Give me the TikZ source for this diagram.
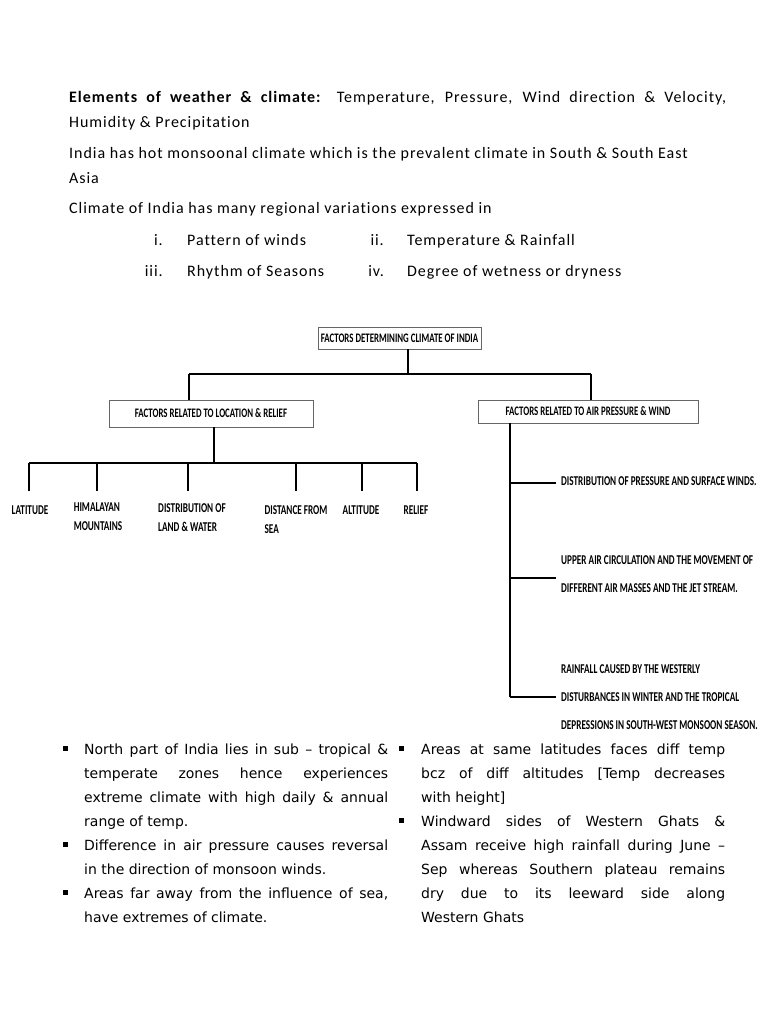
\documentclass[tikz,border=0pt]{standalone}
\usepackage{fontspec}
\setmainfont{Carlito}[LetterSpace=6,Ligatures=NoCommon]
\newfontfamily\bulfont{DejaVu Sans}
\newfontfamily\diagfont[FakeStretch=0.68]{Carlito}
\begin{document}
\begin{tikzpicture}[x=1pt,y=-1pt,
  toptext/.style={anchor=base west, inner sep=0, font=\fontsize{16}{18}\selectfont},
  numtext/.style={anchor=base east, inner sep=0, font=\fontsize{16}{18}\selectfont},
  box/.style={draw=black!60, line width=0.8pt, inner sep=0, font=\diagfont\bfseries\fontsize{13}{15}\selectfont},
  leaf/.style={anchor=north, inner sep=0, align=left, font=\diagfont\bfseries\fontsize{13.5}{19}\selectfont},
  rtext/.style={anchor=west, inner sep=0, align=left, font=\diagfont\bfseries\fontsize{13.5}{28}\selectfont},
  conn/.style={line width=1.5pt},
  bar/.style={line width=2pt},
  bullet/.style={fill=black, minimum size=5pt, inner sep=0},
  bultext/.style={anchor=north west, inner sep=0, align=left, font=\bulfont\fontsize{14}{24}\selectfont}
]
\useasboundingbox[fill=white] (0,0) rectangle (768,1024);

% top text
\node[toptext] (t1) at (69,103) {\makebox[657pt][s]{\textbf{Elements of weather \& climate:} Temperature, Pressure, Wind direction \& Velocity,}};
\node[toptext] (t2) at (69,128) {Humidity \& Precipitation};
\node[toptext] (t3) at (69,159) {India has hot monsoonal climate which is the prevalent climate in South \& South East};
\node[toptext] (t4) at (69,184) {Asia};
\node[toptext] (t5) at (69,214) {Climate of India has many regional variations expressed in};
\node[numtext] (n1) at (163,245) {i.};
\node[toptext] (i1) at (187,245) {Pattern of winds};
\node[numtext] (n2) at (384,245) {ii.};
\node[toptext] (i2) at (407,245) {Temperature \& Rainfall};
\node[numtext] (n3) at (163,276) {iii.};
\node[toptext] (i3) at (187,276) {Rhythm of Seasons};
\node[numtext] (n4) at (384,276) {iv.};
\node[toptext] (i4) at (407,276) {Degree of wetness or dryness};

% diagram boxes
\node[box, minimum width=163pt, minimum height=22pt] (root) at (399.5,338) {FACTORS DETERMINING CLIMATE OF INDIA};
\node[box, minimum width=204pt, minimum height=27pt] (loc) at (211,413.5) {FACTORS RELATED TO LOCATION \& RELIEF};
\node[box, minimum width=220pt, minimum height=23pt] (air) at (588,411.5) {FACTORS RELATED TO AIR PRESSURE \& WIND};

\coordinate (rootdrop) at (408,349);
\coordinate (barL) at (189,374);
\coordinate (barR) at (591,374);
\draw[conn] (rootdrop) -- (rootdrop |- barL);
\draw[bar] (barL) -- (barR);
\draw[conn] (barL) -- (barL |- loc.north);
\draw[conn] (barR) -- (barR |- air.north);

% left subtree
\coordinate (sub) at (214,463);
\draw[conn] (sub |- loc.south) -- (sub);
\coordinate (lb1) at (29,463);
\coordinate (lb2) at (97,463);
\coordinate (lb3) at (188,463);
\coordinate (lb4) at (296,463);
\coordinate (lb5) at (362,463);
\coordinate (lb6) at (417,463);
\draw[bar] (lb1) -- (lb6);
\node[leaf] (lat) at (30,506) {LATITUDE};
\node[leaf] (him) at (98,503) {HIMALAYAN\\MOUNTAINS};
\node[leaf] (dis) at (192,503) {DISTRIBUTION OF\\LAND \& WATER};
\node[leaf] (sea) at (296,505) {DISTANCE FROM\\SEA};
\node[leaf] (alt) at (361,506) {ALTITUDE};
\node[leaf] (rel) at (416,506) {RELIEF};
\foreach \c in {lb1,lb2,lb3,lb4,lb5,lb6} \draw[conn] (\c) -- ++(0,28);

% right subtree
\coordinate (spine) at (510,697);
\draw[conn] (spine |- air.south) -- (spine);
\node[rtext] (r1) at (561,481) {DISTRIBUTION OF PRESSURE AND SURFACE WINDS.};
\node[rtext] (r2) at (561,574) {UPPER AIR CIRCULATION AND THE MOVEMENT OF\\DIFFERENT AIR MASSES AND THE JET STREAM.};
\node[rtext] (r3) at (561,697) {RAINFALL CAUSED BY THE WESTERLY\\DISTURBANCES IN WINTER AND THE TROPICAL\\DEPRESSIONS IN SOUTH-WEST MONSOON SEASON.};
\coordinate (s1) at (510,483);
\coordinate (s2) at (510,578);
\draw[conn] (s1) -- ++(46,0);
\draw[conn] (s2) -- ++(46,0);
\draw[conn] (spine) -- ++(46,0);

% bullets
\def\bw{304pt}
\node[bullet] (b1) at (65.5,748) {};
\node[bultext] (bt1) at (84,744) {\makebox[\bw][s]{North part of India lies in sub – tropical \&}\\\makebox[\bw][s]{temperate zones hence experiences}\\\makebox[\bw][s]{extreme climate with high daily \& annual}\\range of temp.};
\node[bullet] (b2) at (65.5,844) {};
\node[bultext] (bt2) at (84,840) {\makebox[\bw][s]{Difference in air pressure causes reversal}\\in the direction of monsoon winds.};
\node[bullet] (b3) at (65.5,892) {};
\node[bultext] (bt3) at (84,888) {\makebox[\bw][s]{Areas far away from the influence of sea,}\\have extremes of climate.};
\node[bullet] (b4) at (401.5,748) {};
\node[bultext] (bt4) at (421,744) {\makebox[\bw][s]{Areas at same latitudes faces diff temp}\\\makebox[\bw][s]{bcz of diff altitudes [Temp decreases}\\with height]};
\node[bullet] (b5) at (401.5,820) {};
\node[bultext] (bt5) at (421,816) {\makebox[\bw][s]{Windward sides of Western Ghats \&}\\\makebox[\bw][s]{Assam receive high rainfall during June –}\\\makebox[\bw][s]{Sep whereas Southern plateau remains}\\\makebox[\bw][s]{dry due to its leeward side along}\\Western Ghats};
\end{tikzpicture}
\end{document}
